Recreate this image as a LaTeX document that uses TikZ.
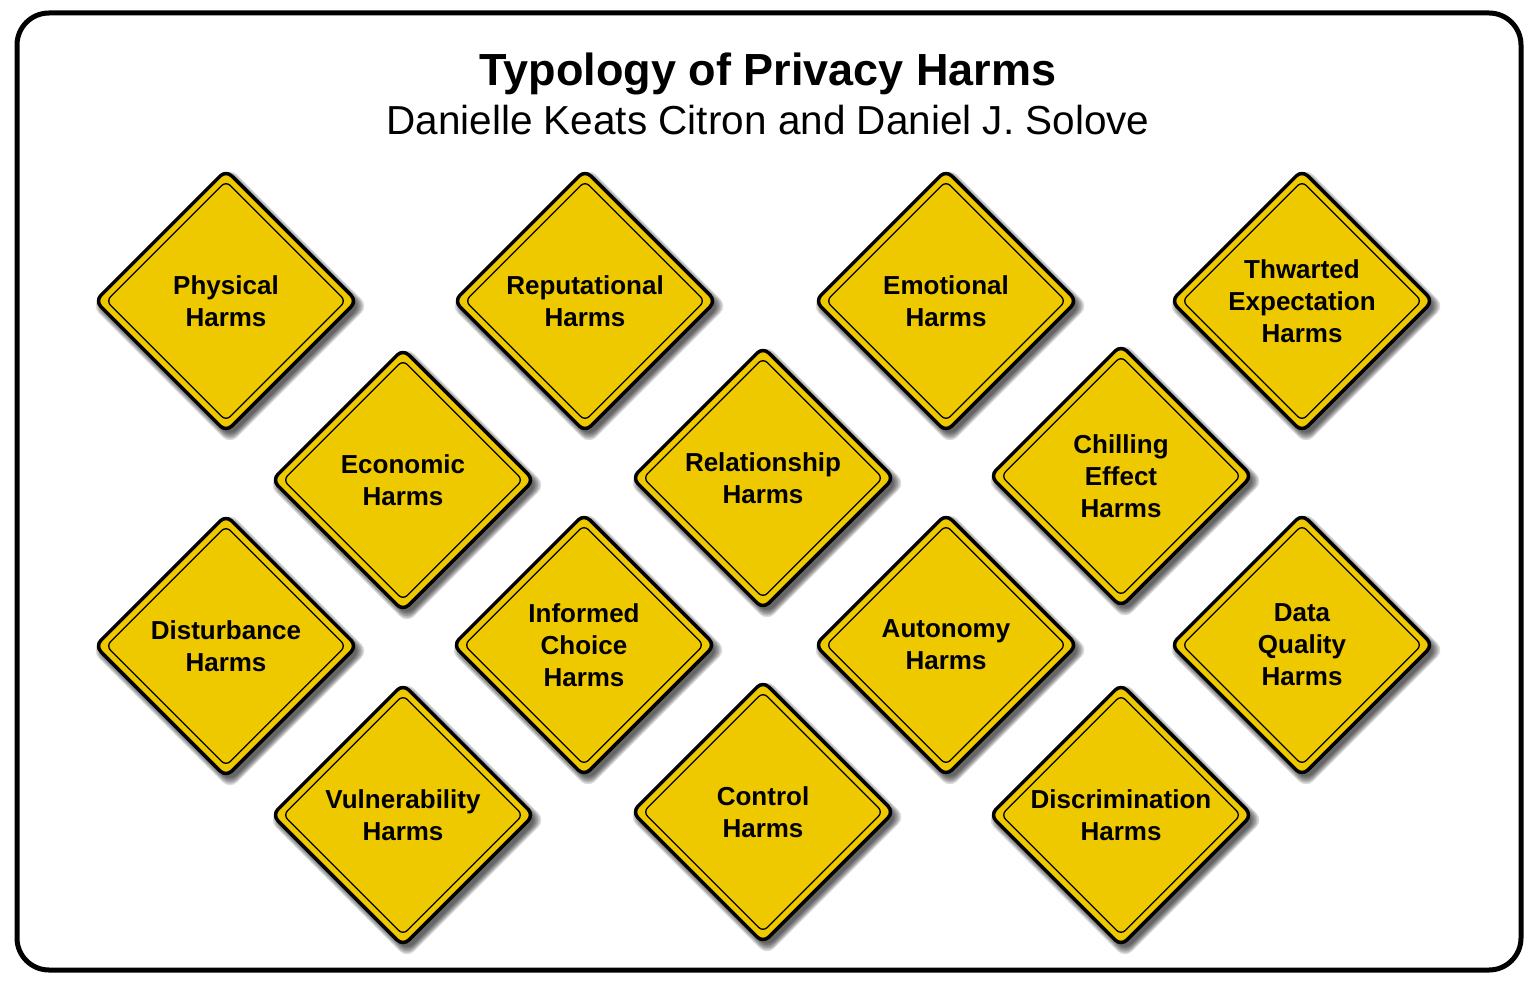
\documentclass[tikz,border=0pt]{standalone}
\usepackage{fontspec}
\setmainfont{Liberation Sans}
\usetikzlibrary{shapes.geometric}
\definecolor{signyellow}{RGB}{238,201,0}
\begin{document}
\begin{tikzpicture}[x=1pt, y=-1pt,
    sign/.style={diamond, draw=black, line width=3.5pt, fill=signyellow,
        rounded corners=8pt, minimum size=263pt, inner sep=0pt, align=center,
        font=\fontsize{26}{32}\selectfont\bfseries},
    signline/.style={diamond, draw=black, line width=1.3pt,
        rounded corners=6pt, minimum size=240pt, inner sep=0pt},
    signshadow/.style={diamond, fill=black, opacity=0.14,
        rounded corners=10pt, inner sep=0pt}]
    \useasboundingbox (0,0) rectangle (1536,987);
    \draw[line width=5pt, rounded corners=32pt] (17,13) rectangle (1521,970);
    \node[anchor=base, font=\fontsize{45}{54}\selectfont\bfseries] (title) at (768,86) {Typology of Privacy Harms};
    \node[anchor=base, font=\fontsize{40.5}{48}\selectfont] (authors) at (768,135) {Danielle Keats Citron and Daniel J. Solove};
    \foreach \name/\x/\y/\txt in {
        phys/226/301/{Physical\\Harms},
        reput/585/301/{Reputational\\Harms},
        emot/946/301/{Emotional\\Harms},
        thwart/1302/301/{Thwarted\\Expectation\\Harms},
        econ/403/480/{Economic\\Harms},
        relat/763/478/{Relationship\\Harms},
        chill/1121/476/{Chilling\\Effect\\Harms},
        disturb/226/646/{Disturbance\\Harms},
        inform/584/645/{Informed\\Choice\\Harms},
        auton/946/645/{Autonomy\\Harms},
        dataq/1302/645/{Data\\Quality\\Harms},
        vulner/403/815/{Vulnerability\\Harms},
        control/763/812/{Control\\Harms},
        discrim/1121/815/{Discrimination\\Harms}}{
        % soft shadow, bottom right
        \foreach \k in {0,...,5}{
            \pgfmathsetmacro\s{262+3*\k}
            \node[signshadow, minimum size=\s pt] at (\x+4,\y+5) {};
        }
        \node[sign] (\name) at (\x,\y) {\txt};
        \node[signline] at (\name.center) {};
    }
\end{tikzpicture}
\end{document}
